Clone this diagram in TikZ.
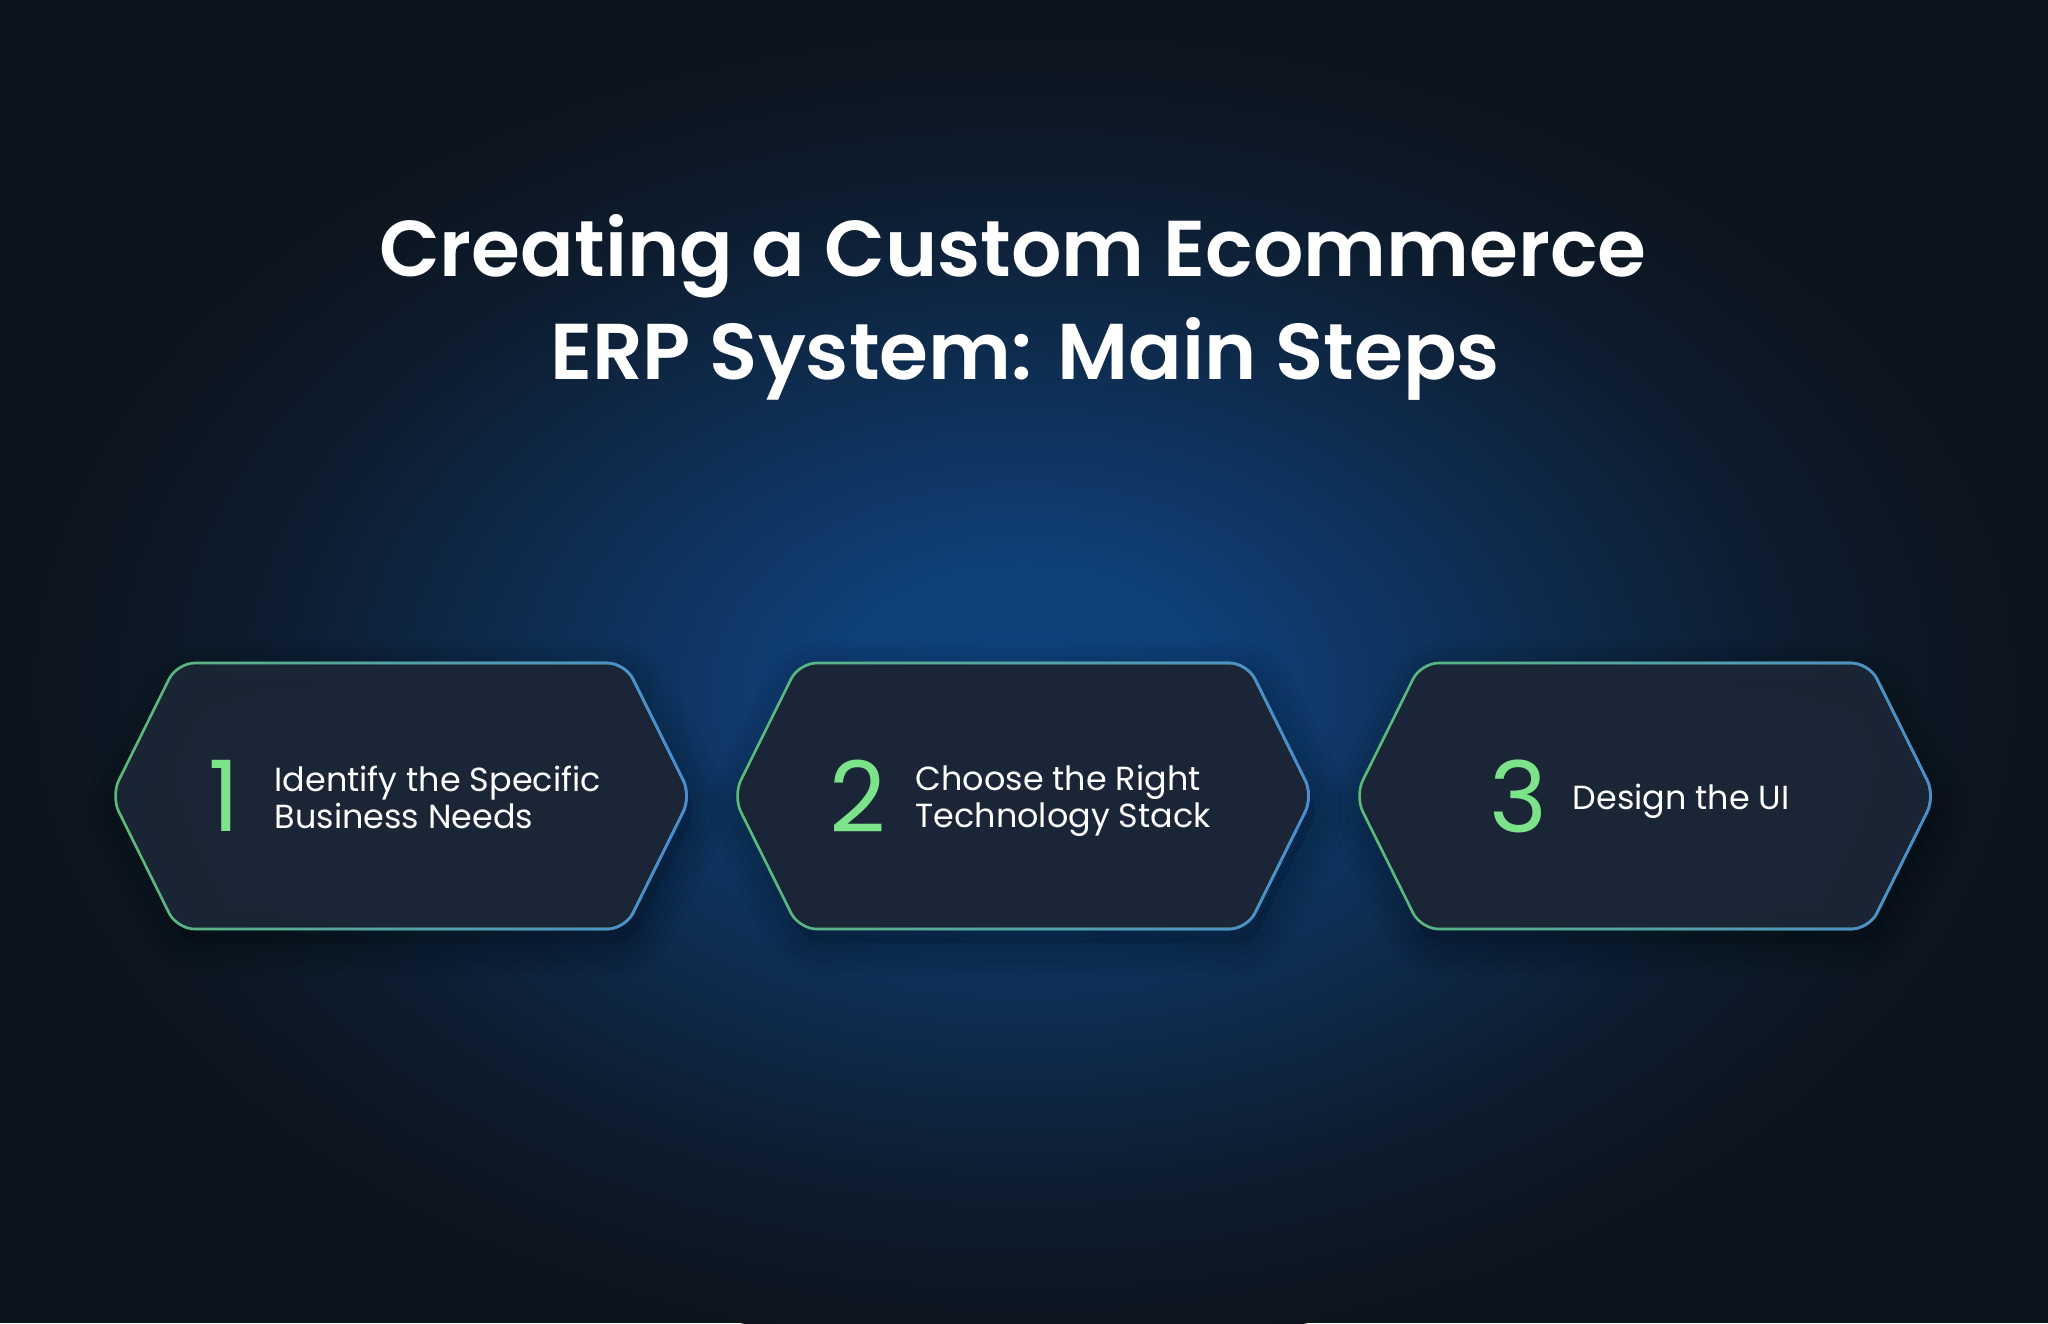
\documentclass[tikz,border=0pt]{standalone}
\usepackage{fontspec}
\setmainfont{Poppins}
\newfontfamily\titlefont{Poppins SemiBold}
\usepackage{xcolor}
\usetikzlibrary{fadings}

\definecolor{bgdark}{HTML}{0D141D}
\definecolor{bgglow}{HTML}{0F437F}
\definecolor{hexfill}{HTML}{1B2636}
\definecolor{edgegreen}{HTML}{5DBB78}
\definecolor{edgeblue}{HTML}{4A8BD6}
\definecolor{numgreen}{HTML}{7CE38A}

\pgfdeclareradialshading{glow}{\pgfpoint{0bp}{0bp}}{color(0bp)=(bgglow); color(5bp)=(bgglow!92!bgdark); color(12bp)=(bgglow!55!bgdark); color(19bp)=(bgglow!18!bgdark); color(25bp)=(bgdark); color(50bp)=(bgdark)}
\tikzfading[name=toblue, left color=transparent!100, right color=transparent!0]

% hexagon outline round a centre x (pixel units)
\newcommand{\hexpath}[1]{({#1-290},796) -- ({#1-224},663) -- ({#1+224},663) -- ({#1+290},796) -- ({#1+224},929) -- ({#1-224},929) -- cycle}

\begin{document}
\begin{tikzpicture}[x=0.01cm, y=-0.01cm,
    hexedge/.style={line width=0.75pt, line join=round, rounded corners=5pt},
    numtxt/.style={text=numgreen, inner sep=0pt, font=\fontsize{28}{28}\selectfont},
    steptxt/.style={text=white, inner sep=0pt, align=left, font=\fontsize{9.5}{10.6}\selectfont},
    ttl/.style={text=white, inner sep=0pt, font=\titlefont\fontsize{22.5}{28}\selectfont}]

  % --- centres of the three steps ---
  \def\xa{401}
  \def\xb{1023}
  \def\xc{1645}

  % ============================================================
  % background
  % ============================================================
  \useasboundingbox (0,0) rectangle (2048,1323);
  \fill[bgdark] (0,0) rectangle (2048,1323);
  \shade[shading=glow] (1024,690) ellipse [x radius=1000, y radius=660];

  % ============================================================
  % title
  % ============================================================
  \node[ttl, anchor=base] (ttla) at (1013,276) {Creating a Custom Ecommerce};
  \node[ttl, anchor=base] (ttlb) at (1025,379) {ERP System: Main Steps};

  % ============================================================
  % hexagons: shadow, body, green-to-blue edge
  % ============================================================
  \foreach \x in {\xa,\xb,\xc} {
    \fill[black, opacity=0.12, rounded corners=5pt, shift={(6,14)}] \hexpath{\x};
    \foreach \w in {4,8,...,20}
      \draw[black, opacity=0.035, line width=\w pt, line join=round, rounded corners=5pt, shift={(6,14)}] \hexpath{\x};
    \fill[hexfill, opacity=0.95, rounded corners=5pt] \hexpath{\x};
    \draw[hexedge, edgegreen] \hexpath{\x};
    \draw[hexedge, edgeblue, path fading=toblue] \hexpath{\x};
  }

  % ============================================================
  % step 1
  % ============================================================
  \node[numtxt] (numa) at (224,796) {1};
  \node[steptxt, anchor=west] (stepa) at (274,797) {Identify the Specific\\Business Needs};

  % step 2
  \node[numtxt] (numb) at (858,796) {2};
  \node[steptxt, anchor=west] (stepb) at (915,801) {Choose the Right\\Technology Stack};

  % step 3
  \node[numtxt] (numc) at (1518,796) {3};
  \node[steptxt, anchor=west] (stepc) at (1572,801) {Design the UI};

\end{tikzpicture}
\end{document}
